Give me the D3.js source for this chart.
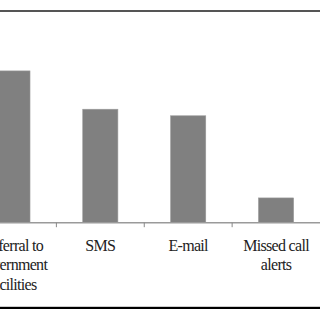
<!DOCTYPE html>
<html lang="en">
<head>
<meta charset="utf-8">
<title>bars</title>
<script src="https://d3js.org/d3.v7.min.js"></script>
<style>
  body { margin: 0; background: #fff; }
  svg { display: block; }
  text.lab { font-family: "Liberation Serif", "DejaVu Serif", serif; }
</style>
</head>
<body>
<svg id="chart" width="320" height="320"></svg>
<script>
// data (no y axis shown, so share of respondents is a guess)
var categories = ["Referral to government facilities", "SMS", "E-mail", "Missed call alerts"]
var labelLines = [["Referral to", "government", "facilities"], ["SMS"], ["E-mail"], ["Missed call", "alerts"]]
var values = [71.7, 53.6, 50.5, 11.7]

var svg = d3.select("#chart")

// frame lines
svg.append("line").attr("x1", 0).attr("x2", 320).attr("y1", 11).attr("y2", 11)
  .attr("stroke", "#555").attr("stroke-width", 2)
svg.append("line").attr("x1", 0).attr("x2", 320).attr("y1", 306.5).attr("y2", 306.5)
  .attr("stroke", "#ccc").attr("stroke-width", 1)
svg.append("line").attr("x1", 0).attr("x2", 320).attr("y1", 308).attr("y2", 308)
  .attr("stroke", "#000").attr("stroke-width", 1.8)

// band step ~87.9, boundaries at 56, 144, 232
var x = d3.scaleBand().domain(categories).range([-31.5, 320]).paddingInner(0.6).paddingOuter(0.3)
var y = d3.scaleLinear().domain([0, 100]).range([222.7, 11])

svg.selectAll("rect.bar")
  .data(values)
  .enter()
  .append("rect")
  .attr("class", "bar")
  .attr("x", function(d, i) { return x(categories[i]) })
  .attr("width", x.bandwidth())
  .attr("y", function(d) { return y(d) })
  .attr("height", function(d) { return y(0) - y(d) })
  .attr("fill", "#808080")
  .attr("stroke", "#999")
  .attr("stroke-width", 0.6)

// baseline + ticks between categories
svg.append("line").attr("x1", 0).attr("x2", 320).attr("y1", y(0)).attr("y2", y(0))
  .attr("stroke", "#9a9a9a").attr("stroke-width", 1.4)

var ticks = categories.slice(1).map(function(c) { return x(c) - x.step() * x.paddingInner() / 2 })
svg.selectAll("line.tick")
  .data(ticks)
  .enter()
  .append("line")
  .attr("class", "tick")
  .attr("x1", function(d) { return d }).attr("x2", function(d) { return d })
  .attr("y1", y(0)).attr("y2", y(0) + 4.5)
  .attr("stroke", "#888").attr("stroke-width", 1)

// labels
var labels = svg.selectAll("text.lab")
  .data(labelLines)
  .enter()
  .append("text")
  .attr("class", "lab")
  .attr("text-anchor", "middle")
  .attr("font-size", 16)
  .attr("letter-spacing", -0.7)
  .attr("fill", "#222")

labels.each(function(lines, i) {
  var cx = x(categories[i]) + x.bandwidth() / 2
  d3.select(this).selectAll("tspan")
    .data(lines)
    .enter()
    .append("tspan")
    .attr("x", cx)
    .attr("y", function(d, j) { return 251 + j * 19.4 })
    .text(function(d) { return d })
})
</script>
</body>
</html>
